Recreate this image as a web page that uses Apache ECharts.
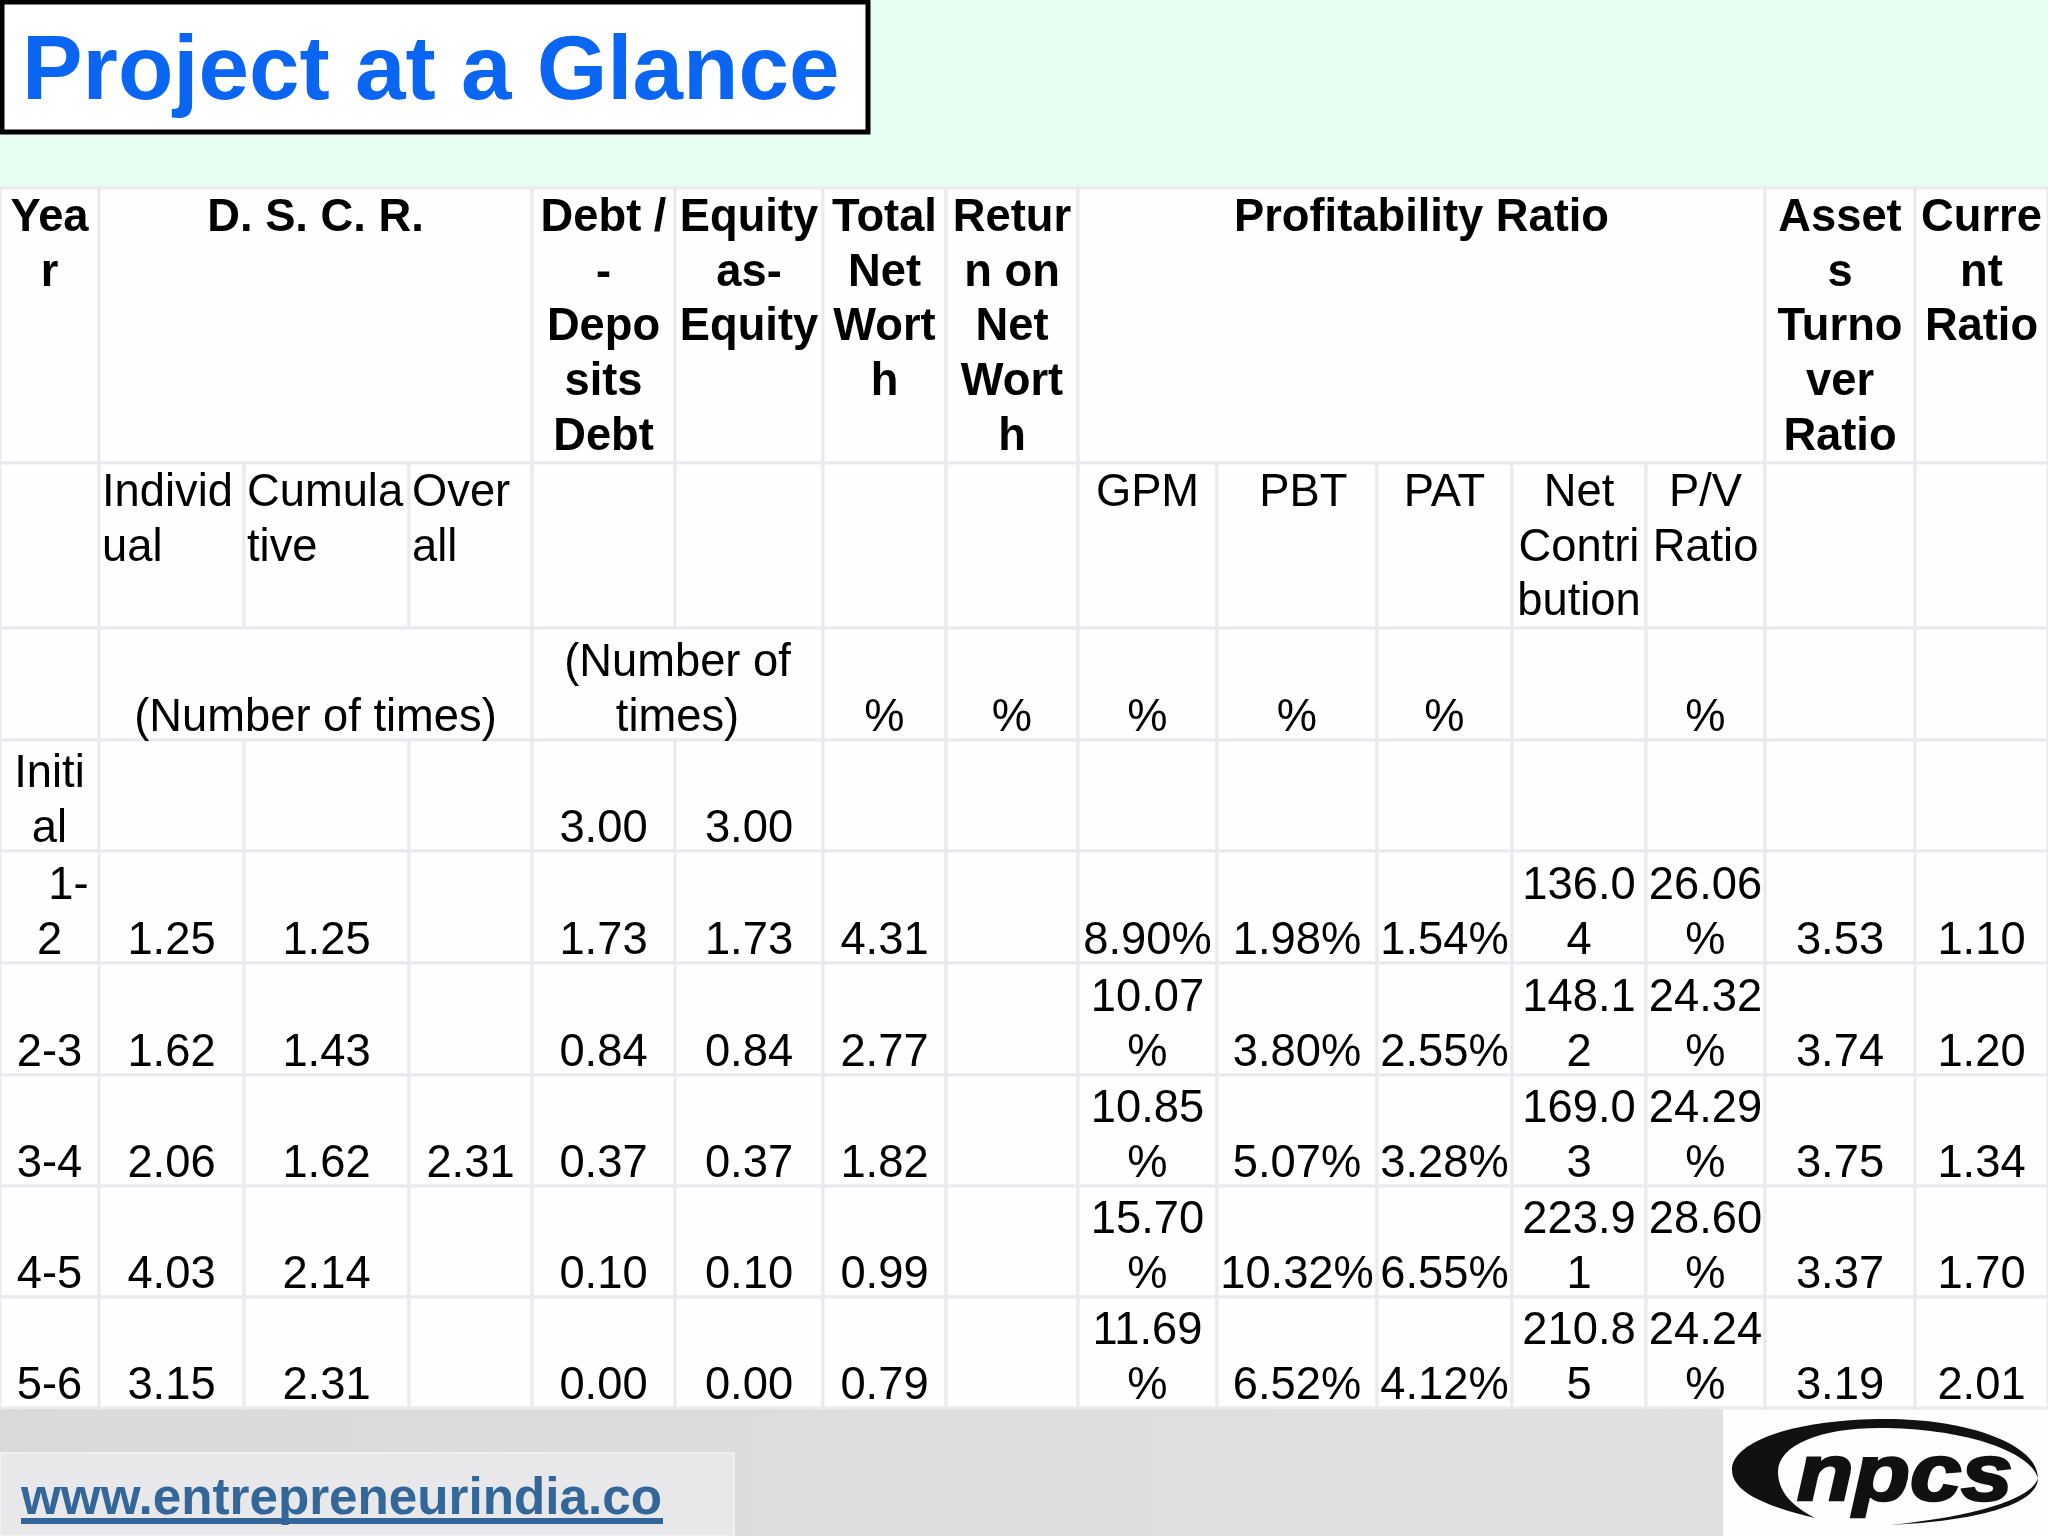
<!DOCTYPE html>
<html>
<head>
<meta charset="utf-8">
<title>Project at a Glance</title>
<style>
html, body { margin: 0; padding: 0; background: #e6fdf2; }
#main { width: 2048px; height: 1536px; }
</style>
<script src="https://cdn.jsdelivr.net/npm/echarts@6/dist/echarts.min.js"></script>
</head>
<body>
<div id="main"></div>
<script>
// 数据
var titleText = 'Project at a Glance';
var siteText = 'www.entrepreneurindia.co';
var logoText = 'npcs';

var years = ['\u00a0\u00a0\u00a01-\n2', '2-3', '3-4', '4-5', '5-6'];
var initialLabel = 'Initi\nal';
var initialDebt = 3.00;
var initialEquity = 3.00;

var individual = [1.25, 1.62, 2.06, 4.03, 3.15];
var cumulative = [1.25, 1.43, 1.62, 2.14, 2.31];
var overall = [null, null, 2.31, null, null];
var debtDeposits = [1.73, 0.84, 0.37, 0.10, 0.00];
var equityAsEquity = [1.73, 0.84, 0.37, 0.10, 0.00];
var totalNetWorth = [4.31, 2.77, 1.82, 0.99, 0.79];
var returnOnNetWorth = [null, null, null, null, null];
var gpm = [8.90, 10.07, 10.85, 15.70, 11.69];
var pbt = [1.98, 3.80, 5.07, 10.32, 6.52];
var pat = [1.54, 2.55, 3.28, 6.55, 4.12];
var netContribution = [136.04, 148.12, 169.03, 223.91, 210.85];
var pvRatio = [26.06, 24.32, 24.29, 28.60, 24.24];
var assetTurnover = [3.53, 3.74, 3.75, 3.37, 3.19];
var currentRatio = [1.10, 1.20, 1.34, 1.70, 2.01];

var headerTexts = ['Yea\nr', 'D. S. C. R.', 'Debt /\n-\nDepo\nsits\nDebt', 'Equity\nas-\nEquity', 'Total\nNet\nWort\nh',
    'Retur\nn on\nNet\nWort\nh', 'Profitability Ratio', 'Asset\ns\nTurno\nver\nRatio', 'Curre\nnt\nRatio'];
var subHeaderTexts = ['Individ\nual', 'Cumula\ntive', 'Over\nall', 'GPM', '\u00a0PBT', 'PAT', 'Net\nContri\nbution', 'P/V\nRatio'];
var timesWide = '(Number of times)';
var timesWrapped = '(Number of\ntimes)';
var percentSign = '%';

// 表格布局(像素)
var colEdges = [0, 99, 244, 409, 532, 675, 823, 946, 1078, 1217, 1377, 1512, 1646, 1765, 1915, 2048];
var rowEdges = [188, 463, 628, 740, 851, 963, 1075, 1186, 1297, 1408];
var fontSize = 45.3;
var lineHeight = 54.8;
var fontFamily = '"Liberation Sans", Arial, sans-serif';

var measure = document.createElement('canvas').getContext('2d');

// 单元格太窄时按字符折行,和原表一样
function wrapText(str, col) {
    measure.font = fontSize + 'px ' + fontFamily;
    var maxWidth = colEdges[col + 1] - colEdges[col] - 3;
    var lines = [], line = '';
    str.split('').forEach(function (ch) {
        if (measure.measureText(line + ch).width > maxWidth && line) {
            lines.push(line);
            line = ch;
        } else {
            line += ch;
        }
    });
    lines.push(line);
    return lines.join('\n');
}

var cells = [];
function addCell(c0, c1, r, text, opt) {
    opt = opt || {};
    cells.push({
        value: [colEdges[c0], rowEdges[r], colEdges[c1 + 1], rowEdges[r + 1]],
        text: text,
        bold: !!opt.bold,
        top: !!opt.top,
        left: !!opt.left
    });
}

// 表头
[[0, 0], [1, 3], [4, 4], [5, 5], [6, 6], [7, 7], [8, 12], [13, 13], [14, 14]].forEach(function (span, i) {
    addCell(span[0], span[1], 0, headerTexts[i], { bold: true, top: true });
});
// 第二行
addCell(0, 0, 1, '');
[1, 2, 3].forEach(function (c, i) { addCell(c, c, 1, subHeaderTexts[i], { top: true, left: true }); });
[4, 5, 6, 7].forEach(function (c) { addCell(c, c, 1, ''); });
[8, 9, 10, 11, 12].forEach(function (c, i) { addCell(c, c, 1, subHeaderTexts[i + 3], { top: true }); });
[13, 14].forEach(function (c) { addCell(c, c, 1, ''); });
// 单位行
addCell(0, 0, 2, '');
addCell(1, 3, 2, timesWide);
addCell(4, 5, 2, timesWrapped);
[6, 7, 8, 9, 10, 12].forEach(function (c) { addCell(c, c, 2, percentSign); });
[11, 13, 14].forEach(function (c) { addCell(c, c, 2, ''); });
// Initial 行
for (var c = 0; c < 15; c++) {
    var t = '';
    if (c === 0) t = initialLabel;
    if (c === 4) t = initialDebt.toFixed(2);
    if (c === 5) t = initialEquity.toFixed(2);
    addCell(c, c, 3, t);
}
// 数据行
var dataCols = [individual, cumulative, overall, debtDeposits, equityAsEquity, totalNetWorth, returnOnNetWorth,
    gpm, pbt, pat, netContribution, pvRatio, assetTurnover, currentRatio];
var percentCols = [gpm, pbt, pat, pvRatio];
years.forEach(function (year, i) {
    addCell(0, 0, 4 + i, year);
    dataCols.forEach(function (arr, j) {
        var v = arr[i];
        var s = '';
        if (v !== null) {
            s = v.toFixed(2) + (percentCols.indexOf(arr) >= 0 ? '%' : '');
            s = wrapText(s, j + 1);
        }
        addCell(j + 1, j + 1, 4 + i, s);
    });
});

function renderCell(params, api) {
    var cell = cells[params.dataIndex];
    var p0 = api.coord([api.value(0), api.value(1)]);
    var p1 = api.coord([api.value(2), api.value(3)]);
    var children = [{
        type: 'rect',
        shape: { x: p0[0], y: p0[1], width: p1[0] - p0[0], height: p1[1] - p0[1] },
        style: { fill: '#fefefe', stroke: '#e9e9ee', lineWidth: 3 }
    }];
    if (cell.text) {
        children.push({
            type: 'text',
            z2: 5,
            style: {
                text: cell.text,
                x: cell.left ? p0[0] + 3 : (p0[0] + p1[0]) / 2,
                y: cell.top ? p0[1] + 3 : p1[1] + 6,
                align: cell.left ? 'left' : 'center',
                verticalAlign: cell.top ? 'top' : 'bottom',
                lineHeight: lineHeight,
                fill: '#000',
                font: (cell.bold ? 'bold ' : '') + fontSize + 'px ' + fontFamily
            }
        });
    }
    return { type: 'group', children: children };
}

// logo 的椭圆
function renderLogo() {
    return {
        type: 'group',
        children: [{
            type: 'path',
            shape: {
                pathData: 'M1815,1518 C1760,1505 1732,1490 1732,1470 C1732,1440 1800,1419 1885,1419 '
                    + 'C1970,1419 2038,1445 2038,1478 C2030,1450 1960,1428 1880,1428 '
                    + 'C1820,1428 1778,1445 1778,1472 C1778,1490 1790,1505 1815,1518 Z '
                    + 'M1890,1525 C1975,1521 2038,1505 2038,1478 C2032,1500 1970,1517 1890,1525 Z'
            },
            style: { fill: '#111' }
        }]
    };
}

var myChart = echarts.init(document.getElementById('main'));

myChart.setOption({
    animation: false,
    backgroundColor: '#e6fdf2',
    grid: { left: 0, right: 0, top: 0, bottom: 0 },
    xAxis: { type: 'value', min: 0, max: 2048, show: false },
    yAxis: { type: 'value', min: 0, max: 1536, inverse: true, show: false },
    series: [{
        type: 'custom',
        clip: false,
        silent: true,
        coordinateSystem: 'cartesian2d',
        renderItem: renderCell,
        encode: { x: [0, 2], y: [1, 3] },
        data: cells.map(function (cell) { return cell.value; })
    }, {
        type: 'custom',
        silent: true,
        z: 20,
        coordinateSystem: 'none',
        renderItem: renderLogo,
        data: [[0]]
    }],
    graphic: [
        // 标题框
        {
            type: 'rect', z: 1,
            shape: { x: 2, y: 2, width: 866, height: 130 },
            style: { fill: '#ffffff', stroke: '#000', lineWidth: 5 }
        },
        {
            type: 'text', z: 2,
            style: {
                text: titleText, x: 22, y: 74, align: 'left', verticalAlign: 'middle',
                fill: '#0a66f2', font: 'bold 90.8px ' + fontFamily
            }
        },
        // 底部
        {
            type: 'rect', z: 1,
            shape: { x: 0, y: 1409, width: 2048, height: 127 },
            style: {
                fill: new echarts.graphic.LinearGradient(0, 0, 1, 0, [
                    { offset: 0, color: '#d9d9dc' },
                    { offset: 1, color: '#e2e2e5' }
                ])
            }
        },
        {
            type: 'rect', z: 2,
            shape: { x: 0, y: 1453, width: 734, height: 83 },
            style: { fill: '#e8e8ea', stroke: '#f3f3f5', lineWidth: 1.5 }
        },
        {
            type: 'text', z: 3,
            style: {
                text: siteText, x: 21, y: 1500, align: 'left', verticalAlign: 'middle',
                fill: '#336699', font: 'bold 51.2px ' + fontFamily
            }
        },
        {
            type: 'rect', z: 3,
            shape: { x: 21, y: 1518, width: 642, height: 6 },
            style: { fill: '#336699' }
        },
        // logo
        {
            type: 'rect', z: 2,
            shape: { x: 1723, y: 1409, width: 325, height: 127 },
            style: { fill: '#fdfdfe' }
        },
        {
            type: 'text', z: 30,
            x: 1797, y: 1478, scaleX: 1.17,
            style: {
                text: logoText, x: 0, y: 0, align: 'left', verticalAlign: 'middle',
                fill: '#111', stroke: '#111', lineWidth: 2.5,
                font: 'italic bold 79px ' + fontFamily
            }
        }
    ]
});
</script>
</body>
</html>
